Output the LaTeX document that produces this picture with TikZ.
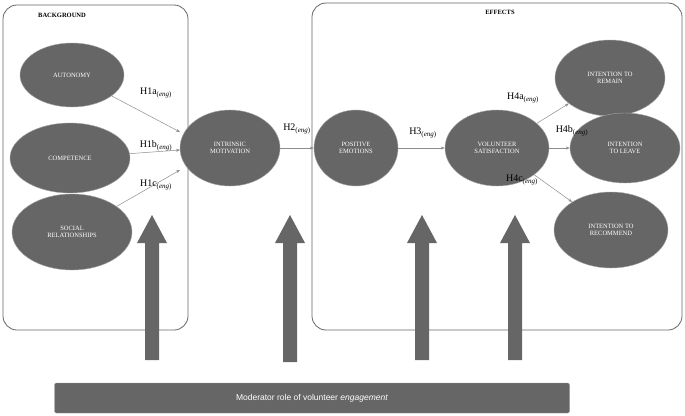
\documentclass[tikz,border=0pt]{standalone}
\usepackage{fontspec}
\setmainfont{Liberation Serif}
\newfontfamily\sansf{Liberation Sans}
\usetikzlibrary{shapes.geometric,arrows.meta}
\begin{document}
\begin{tikzpicture}[x=1pt,y=-1pt,
  el/.style={ellipse,draw=gray!70,fill=black!60,text=white,font=\fontsize{6.5}{7.5}\selectfont,align=center,inner sep=0pt},
  box/.style={draw=black!60,rounded corners=14pt,line width=0.8pt},
  con/.style={draw=black!45,-{Stealth[length=4pt]},line width=0.5pt},
  hl/.style={font=\fontsize{10}{11}\selectfont},
  big/.style={fill=black!60,draw=none}]
\useasboundingbox (0,0) rectangle (685,415);
\draw[box] (3,5) rectangle (188,330);
\draw[box] (312,3) rectangle (682,330);
\node[font=\bfseries\fontsize{6.5}{7}\selectfont] (bg) at (62,15) {BACKGROUND};
\node[font=\bfseries\fontsize{6.5}{7}\selectfont] (ef) at (500,12) {EFFECTS};
\node[el,minimum width=104pt,minimum height=64pt] (au) at (72,75) {AUTONOMY};
\node[el,minimum width=120pt,minimum height=70pt] (co) at (70,158) {COMPETENCE};
\node[el,minimum width=120pt,minimum height=76pt] (so) at (72,232) {SOCIAL\\RELATIONSHIPS};
\node[el,minimum width=100pt,minimum height=76pt] (im) at (230,148) {INTRINSIC\\MOTIVATION};
\node[el,minimum width=84pt,minimum height=76pt] (pe) at (356,148) {POSITIVE\\EMOTIONS};
\node[el,minimum width=104pt,minimum height=76pt] (vs) at (497,148) {VOLUNTEER\\SATISFACTION};
\node[el,minimum width=110pt,minimum height=76pt] (ir) at (610,78) {INTENTION TO\\REMAIN};
\node[el,minimum width=110pt,minimum height=70pt] (il) at (625,148) {INTENTION\\TO LEAVE};
\node[el,minimum width=114pt,minimum height=76pt] (ic) at (611,230) {INTENTION TO\\RECOMMEND};
\coordinate (t1) at (180,132);
\coordinate (t2) at (180,150);
\coordinate (t3) at (180,170);
\draw[con] (au) -- (t1);
\draw[con] (co) -- (t2);
\draw[con] (so) -- (t3);
\draw[con] (im) -- (pe);
\draw[con] (pe) -- (vs);
\draw[con] (vs) -- (ir);
\draw[con] (vs) -- (il);
\draw[con] (vs) -- (ic);
\node[hl] (h1a) at (156,93) {H1a\textsubscript{(\textit{eng})}};
\node[hl] (h1b) at (156,146) {H1b\textsubscript{(\textit{eng})}};
\node[hl] (h1c) at (156,185) {H1c\textsubscript{(\textit{eng})}};
\node[hl] (h2) at (297,129) {H2\textsubscript{(\textit{eng})}};
\node[hl] (h3) at (423,133) {H3\textsubscript{(\textit{eng})}};
\node[hl] (h4a) at (523,98) {H4a\textsubscript{(\textit{eng})}};
\node[hl] (h4b) at (572,131) {H4b\textsubscript{(\textit{eng})}};
\node[hl] (h4c) at (522,180) {H4c\textsubscript{(\textit{eng})}};
\foreach \x/\yb in {152/360,290/362,422/360,515/360}{
  \fill[big] (\x-7,\yb) -- (\x-7,243) -- (\x-15,243) -- (\x,215) -- (\x+15,243) -- (\x+7,243) -- (\x+7,\yb) -- cycle;
}
\node[draw=black!40,fill=black!60,text=white,font=\sansf\fontsize{8.5}{9}\selectfont,minimum width=515pt,minimum height=30pt,rounded corners=2pt] (mod) at (312,398) {Moderator role of volunteer \textit{engagement}};
\end{tikzpicture}
\end{document}
